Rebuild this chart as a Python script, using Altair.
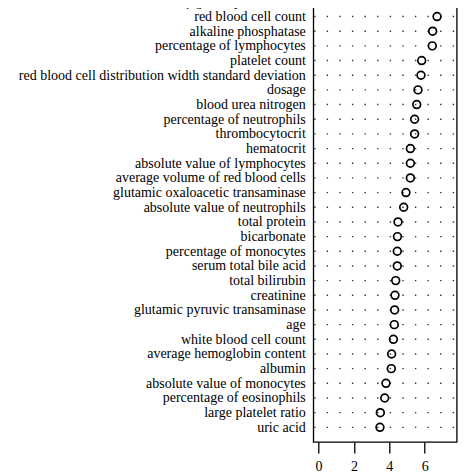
import altair as alt
import pandas as pd

variables = [
    "γ-glutamyltransferase",
    "red blood cell count",
    "alkaline phosphatase",
    "percentage of lymphocytes",
    "platelet count",
    "red blood cell distribution width standard deviation",
    "dosage",
    "blood urea nitrogen",
    "percentage of neutrophils",
    "thrombocytocrit",
    "hematocrit",
    "absolute value of lymphocytes",
    "average volume of red blood cells",
    "glutamic oxaloacetic transaminase",
    "absolute value of neutrophils",
    "total protein",
    "bicarbonate",
    "percentage of monocytes",
    "serum total bile acid",
    "total bilirubin",
    "creatinine",
    "glutamic pyruvic transaminase",
    "age",
    "white blood cell count",
    "average hemoglobin content",
    "albumin",
    "absolute value of monocytes",
    "percentage of eosinophils",
    "large platelet ratio",
    "uric acid",
]
importance = [
    7.51, 6.70, 6.45, 6.43, 5.83, 5.79, 5.62, 5.55, 5.43, 5.43,
    5.19, 5.19, 5.19, 4.94, 4.81, 4.49, 4.46, 4.45, 4.45, 4.36,
    4.32, 4.30, 4.28, 4.23, 4.13, 4.11, 3.81, 3.74, 3.49, 3.47,
]
x_ticks = [0, 2, 4, 6]

df = pd.DataFrame({"variable": variables, "importance": importance})

W = 143.4
H = 454.8
FONT = "Liberation Serif"

y_enc = alt.Y(
    "variable:N",
    sort=variables,
    scale=alt.Scale(type="point", padding=1),
    axis=alt.Axis(
        title=None, ticks=False, domain=False, grid=False,
        labelFont=FONT, labelFontSize=14, labelColor="black",
        labelPadding=8, labelLimit=400,
    ),
)

x_scale = alt.Scale(domain=[-0.3, 7.81], nice=False, zero=False)

lines = alt.Chart(df).mark_rule(
    color="#333", strokeWidth=1.4, strokeDash=[1.4, 11.2], strokeDashOffset=11.8
).encode(y=y_enc, x=alt.value(0), x2=alt.value(W))

points = alt.Chart(df).mark_point(
    shape="circle", filled=False, color="black", size=60, strokeWidth=1.7, opacity=1
).encode(
    x=alt.X(
        "importance:Q",
        scale=x_scale,
        axis=alt.Axis(
            title=None, values=x_ticks, domain=False, grid=False,
            tickColor="black", tickSize=11, tickWidth=1.3,
            labelFont=FONT, labelFontSize=14, labelColor="black",
            labelPadding=6,
        ),
    ),
    y=y_enc,
)

chart = (
    alt.layer(lines, points)
    .properties(
        width=W, height=H,
        autosize=alt.AutoSizeParams(type="none"),
        padding={"left": 305.3, "top": -20.8, "right": 9.3, "bottom": 34},
        background="white",
    )
    .configure_view(stroke="black", strokeWidth=1.3)
)

chart.save("out.html", embed_options={"renderer": "svg", "actions": False})
